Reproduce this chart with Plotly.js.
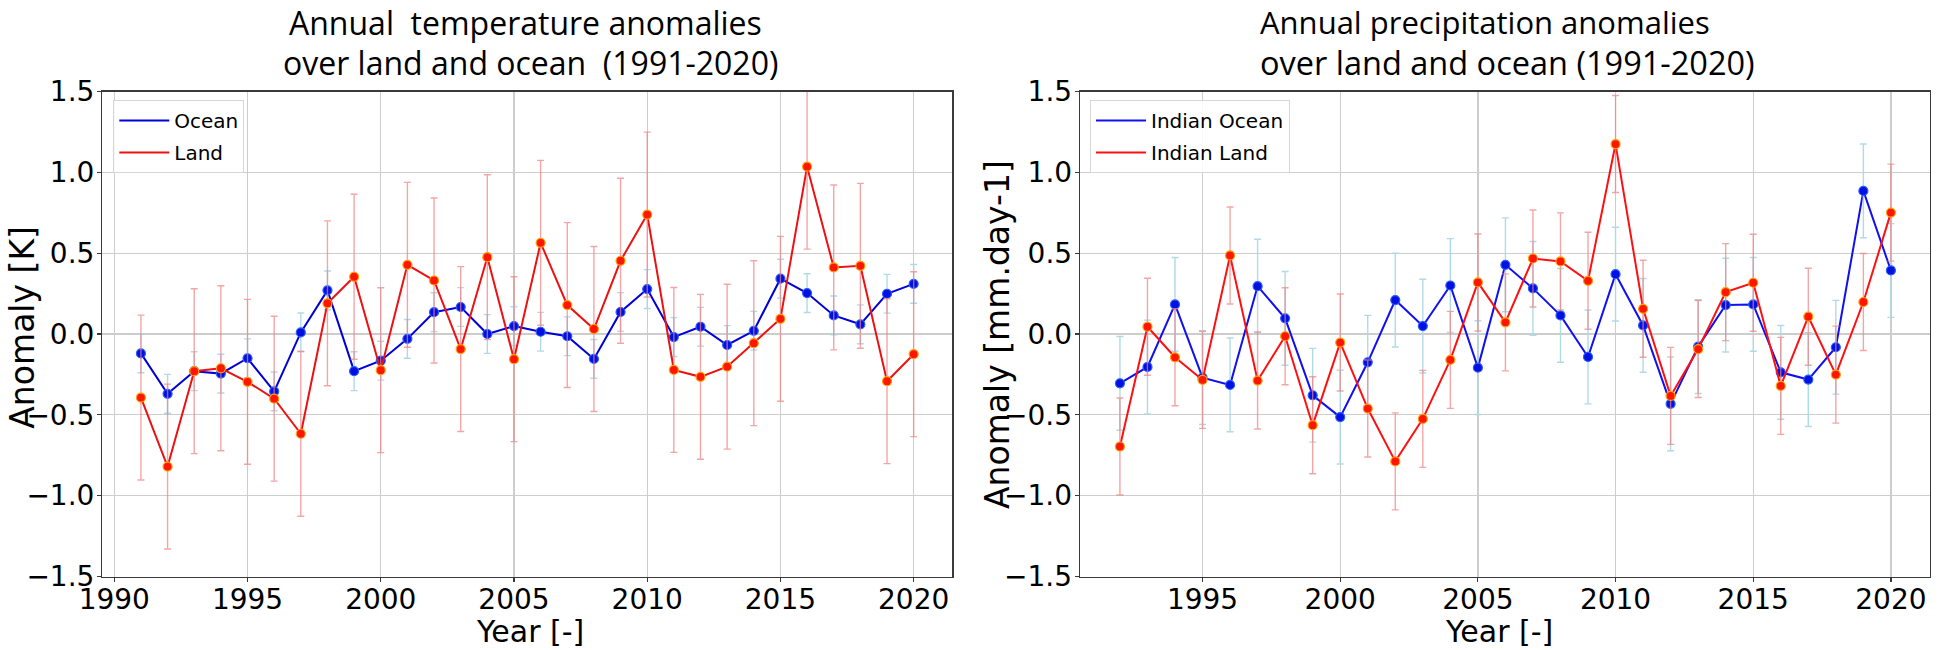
<!DOCTYPE html>
<html>
<head>
<meta charset="utf-8">
<script src="https://cdn.plot.ly/plotly-3.0.1.min.js"></script>
<style>html,body{margin:0;padding:0;background:#fff;}#chart{width:1943px;height:650px;}</style>
</head>
<body>
<div id="chart"></div>
<script>
// ---- Temperature (left panel) ----
const yearsT = [1991,1992,1993,1994,1995,1996,1997,1998,1999,2000,2001,2002,2003,2004,2005,2006,2007,2008,2009,2010,2011,2012,2013,2014,2015,2016,2017,2018,2019,2020];
const oceanT = [-0.12,-0.37,-0.23,-0.245,-0.15,-0.355,0.01,0.27,-0.23,-0.165,-0.03,0.135,0.167,0.0,0.049,0.014,-0.014,-0.154,0.136,0.278,-0.019,0.045,-0.068,0.02,0.342,0.253,0.115,0.06,0.249,0.31];
const landT  = [-0.393,-0.82,-0.23,-0.212,-0.296,-0.40,-0.617,0.19,0.354,-0.224,0.428,0.331,-0.093,0.475,-0.156,0.564,0.179,0.031,0.453,0.739,-0.222,-0.265,-0.202,-0.057,0.094,1.035,0.412,0.422,-0.292,-0.125];
const oceanTErr = [0.12,0.12,0.12,0.12,0.12,0.12,0.12,0.12,0.12,0.12,0.12,0.12,0.12,0.12,0.12,0.12,0.12,0.12,0.12,0.12,0.12,0.12,0.12,0.12,0.12,0.12,0.12,0.12,0.12,0.12];
const landTErr  = [0.51,0.51,0.51,0.51,0.51,0.51,0.51,0.51,0.51,0.51,0.51,0.51,0.51,0.51,0.51,0.51,0.51,0.51,0.51,0.51,0.51,0.51,0.51,0.51,0.51,0.51,0.51,0.51,0.51,0.51];

// ---- Precipitation (right panel) ----
const yearsP = [1992,1993,1994,1995,1996,1997,1998,1999,2000,2001,2002,2003,2004,2005,2006,2007,2008,2009,2010,2011,2012,2013,2014,2015,2016,2017,2018,2019,2020];
const oceanP = [-0.305,-0.204,0.183,-0.27,-0.315,0.296,0.097,-0.379,-0.514,-0.175,0.21,0.049,0.30,-0.208,0.428,0.282,0.115,-0.142,0.370,0.053,-0.432,-0.078,0.179,0.183,-0.237,-0.282,-0.082,0.885,0.393];
const landP  = [-0.696,0.045,-0.144,-0.284,0.486,-0.288,-0.014,-0.564,-0.053,-0.461,-0.788,-0.525,-0.16,0.319,0.072,0.467,0.449,0.329,1.175,0.156,-0.383,-0.093,0.259,0.317,-0.321,0.107,-0.251,0.198,0.751];
const oceanPErr = [0.29,0.29,0.29,0.29,0.29,0.29,0.29,0.29,0.29,0.29,0.29,0.29,0.29,0.29,0.29,0.29,0.29,0.29,0.29,0.29,0.29,0.29,0.29,0.29,0.29,0.29,0.29,0.29,0.29];
const landPErr  = [0.30,0.30,0.30,0.30,0.30,0.30,0.30,0.30,0.30,0.30,0.30,0.30,0.30,0.30,0.30,0.30,0.30,0.30,0.30,0.30,0.30,0.30,0.30,0.30,0.30,0.30,0.30,0.30,0.30];

const seriesNames = {oceanT:'Ocean', landT:'Land', oceanP:'Indian Ocean', landP:'Indian Land'};

const OCEAN_LINE = '#0000d8', LAND_LINE = '#ee1111';
const OCEAN_ERR = 'rgba(173,216,230,0.95)', LAND_ERR = 'rgba(240,128,128,0.7)';

function lineTrace(x, y, name, color, xa, ya, legend, group) {
  return {x, y, name, type:'scatter', mode:'lines', line:{color, width:2},
    xaxis:xa, yaxis:ya, legend, legendgroup:group, hoverinfo:'skip'};
}
function markerTrace(x, y, err, mcolor, medge, ecolor, xa, ya) {
  return {x, y, type:'scatter', mode:'markers', showlegend:false,
    marker:{color:mcolor, size:9, line:{color:medge, width:1.2}},
    error_y:{type:'data', array:err, visible:true, color:ecolor, thickness:1.4, width:3.5},
    xaxis:xa, yaxis:ya, hoverinfo:'skip'};
}

const data = [
  lineTrace(yearsT, oceanT, seriesNames.oceanT, OCEAN_LINE, 'x', 'y', 'legend', 'a'),
  markerTrace(yearsT, oceanT, oceanTErr, '#0010e0', '#2a5cff', OCEAN_ERR, 'x', 'y'),
  lineTrace(yearsT, landT, seriesNames.landT, LAND_LINE, 'x', 'y', 'legend', 'b'),
  markerTrace(yearsT, landT, landTErr, '#ff1500', '#ffa000', LAND_ERR, 'x', 'y'),
  lineTrace(yearsP, oceanP, seriesNames.oceanP, '#1010f0', 'x2', 'y2', 'legend2', 'c'),
  markerTrace(yearsP, oceanP, oceanPErr, '#0010e0', '#2a5cff', OCEAN_ERR, 'x2', 'y2'),
  lineTrace(yearsP, landP, seriesNames.landP, '#ff1010', 'x2', 'y2', 'legend2', 'd'),
  markerTrace(yearsP, landP, landPErr, '#ff1500', '#ffa000', LAND_ERR, 'x2', 'y2'),
];

const BASEFONT = '"DejaVu Sans", Verdana, sans-serif';
const TICKFONT = {family:BASEFONT, size:28, color:'#000'};
function xAxis(domain, range, anchor) {
  return {domain, range, anchor, dtick:5, tick0:1990, showgrid:true, gridcolor:'#cdcdcd', gridwidth:1.3,
    zeroline:false, showline:true, mirror:true, linecolor:'#3a3a3a', linewidth:1.3,
    ticks:'outside', ticklen:4, tickwidth:1.2, tickcolor:'#3a3a3a', tickfont:TICKFONT,
    ticklabelstandoff:-6, fixedrange:true};
}
function yAxis(domain, anchor) {
  return {domain, range:[-1.5,1.5], anchor, dtick:0.5, tick0:0, tickformat:'.1f', showgrid:true,
    gridcolor:'#cdcdcd', gridwidth:1.3, zeroline:false, showline:true, mirror:true, linecolor:'#3a3a3a',
    linewidth:1.3, ticks:'outside', ticklen:4, tickwidth:1.2, tickcolor:'#3a3a3a', tickfont:TICKFONT,
    ticklabelstandoff:-3, fixedrange:true};
}
const W = 1943, H = 650;
const yDom = [1 - 576.5/H, 1 - 91.5/H];
const TITLEFONT = '"Open Sans", "Noto Sans", sans-serif';

function ann(text, px, py, size, family, angle) {
  return {text, x:px/W, y:1-py/H, xref:'paper', yref:'paper', showarrow:false,
    xanchor:'center', yanchor:'middle', textangle:angle||0, font:{family, size, color:'#000'}};
}

const legendStyle = (px) => ({x:px/W, y:1-100/H, xanchor:'left', yanchor:'top', bgcolor:'rgba(255,255,255,0.85)',
  bordercolor:'#d6d6d6', borderwidth:1, font:{family:BASEFONT, size:20, color:'#000'},
  traceorder:'grouped', tracegroupgap:3, itemwidth:50});

const layout = {
  width:W, height:H, autosize:false, margin:{l:0,r:0,t:0,b:0},
  paper_bgcolor:'#fff', plot_bgcolor:'#fff',
  xaxis: xAxis([102.3/W, 952.3/W], [1989.55, 2021.45], 'y'),
  yaxis: yAxis(yDom, 'x'),
  xaxis2: xAxis([1080/W, 1930/W], [1990.55, 2021.42], 'y2'),
  yaxis2: yAxis(yDom, 'x2'),
  legend: legendStyle(113.3),
  legend2: legendStyle(1090),
  annotations: [
    ann('Annual  temperature anomalies', 525, 22, 32, TITLEFONT),
    ann('over land and ocean  (1991-2020)', 530, 62, 32, TITLEFONT),
    ann('Annual precipitation anomalies', 1485, 22, 31, TITLEFONT),
    ann('over land and ocean (1991-2020)', 1507, 62, 32.5, TITLEFONT),
    ann('Anomaly [K]', 21.7, 327, 33, BASEFONT, -90),
    ann('Anomaly [mm.day-1]', 998, 335, 33, BASEFONT, -90),
    ann('Year [-]', 530, 631, 30, BASEFONT),
    ann('Year [-]', 1499, 631, 30, BASEFONT),
  ],
  showlegend:true
};
Plotly.newPlot('chart', data, layout, {staticPlot:true, displayModeBar:false});
</script>
</body>
</html>
